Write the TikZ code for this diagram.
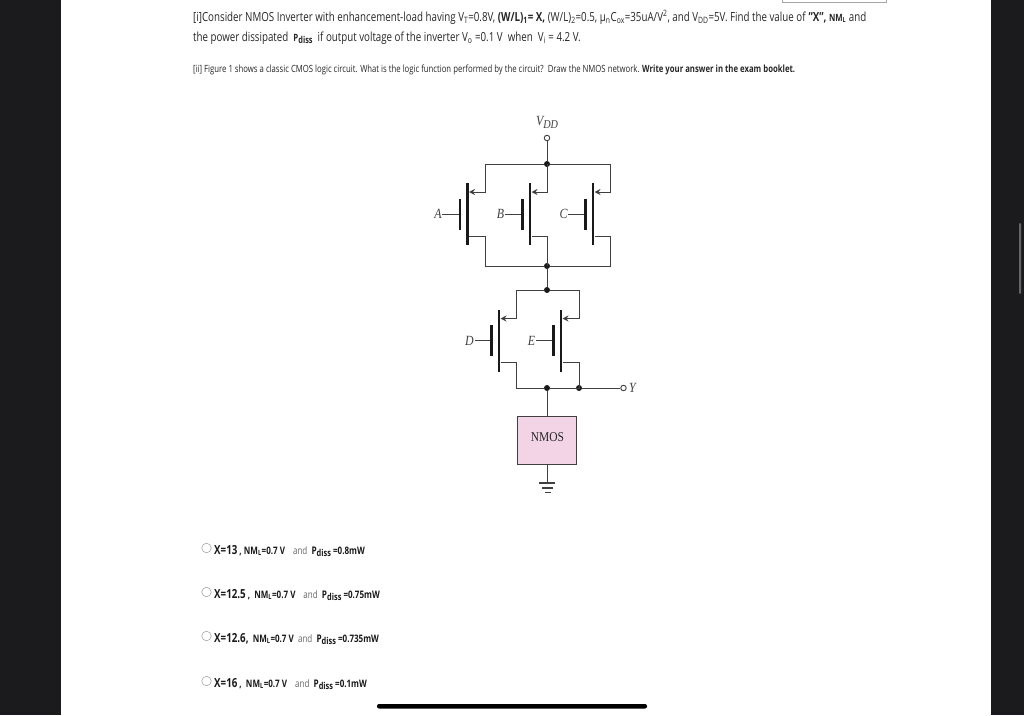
\documentclass[tikz,border=0pt]{standalone}
\usepackage{fontspec}
\setmainfont[FakeStretch=0.78]{Open Sans}
\newfontfamily\circfont[FakeStretch=0.85]{Liberation Serif}
\usetikzlibrary{arrows.meta}
\definecolor{frame}{HTML}{1B1B1D}
\definecolor{wirecol}{HTML}{404040}
\definecolor{boxfill}{HTML}{F3D4E6}
\newcommand{\lowtxt}[1]{\raisebox{-2.5pt}{\fontsize{9.5}{9.5}\selectfont #1}}
\begin{document}
\begin{tikzpicture}[
    x=1pt, y=-1pt,
    wire/.style={draw=wirecol, line width=1pt},
    srcarrow/.style={wire, -{Stealth[length=6pt,width=6pt]}},
    channel/.style={fill=black!90, inner sep=0pt, minimum width=2.6pt, minimum height=62pt},
    gateplate/.style={fill=black!90, inner sep=0pt, minimum width=2.2pt, minimum height=31pt},
    dot/.style={circle, fill=black!90, inner sep=0pt, minimum size=6pt},
    pin/.style={circle, draw=wirecol, fill=white, line width=0.9pt, inner sep=0pt, minimum size=5.5pt},
    lbl/.style={font=\circfont\itshape\fontsize{14}{14}\selectfont, text=black!75, inner sep=0.5pt},
    nmosbox/.style={draw=wirecol, fill=boxfill, line width=1pt, minimum width=59pt, minimum height=48pt, inner sep=0pt},
    boxlbl/.style={font=\circfont\fontsize{13.5}{13.5}\selectfont, text=black!85, inner sep=0pt},
    para/.style={anchor=west, inner sep=0pt, text=black!85, font=\fontsize{12.5}{14}\selectfont},
    parasmall/.style={anchor=west, inner sep=0pt, text=black!85, font=\fontsize{9.93}{12}\selectfont},
    opt/.style={anchor=west, inner sep=0pt, text=black!90, font=\bfseries\fontsize{10.3}{12}\selectfont},
    radio/.style={circle, draw=black!35, fill=white, line width=0.6pt, inner sep=0pt, minimum size=9.5pt},
    gnd/.style={draw=wirecol, line width=1.4pt}
]
    \useasboundingbox (0,0) rectangle (1024,715);
    % page frame
    \fill[frame] (0,0) rectangle (61,715);
    \fill[frame] (990.5,0) rectangle (1024,715);
    \fill[black!60, rounded corners=1pt] (1019,223) rectangle (1021,294);
    \draw[black!35, line width=0.8pt] (782.5,0) -- (782.5,2.5) -- (886.5,2.5) -- (886.5,0);
    \fill[black, rounded corners=2pt] (377,704) rectangle (647,708.5);

    % question text
    \node[para] (line1) at (193,17.5) {[i]Consider NMOS Inverter with enhancement-load having V\textsubscript{T}=0.8V, \textbf{(W/L)\textsubscript{1}= X,} (W/L)\textsubscript{2}=0.5, μ\textsubscript{n}C\textsubscript{ox}=35uA/V\textsuperscript{2}, and V\textsubscript{DD}=5V. Find the value of \textbf{"X", {\fontsize{10}{12}\selectfont NM\textsubscript{L}}} and};
    \node[para] (line2) at (193,38) {the power dissipated\ \ \textbf{\fontsize{10}{12}\selectfont P\lowtxt{diss}}\ \ if output voltage of the inverter V\textsubscript{o} =0.1 V\ \ when\ \ V\textsubscript{i} = 4.2 V.};
    \node[parasmall] (line3) at (193,69.5) {[ii] Figure 1 shows a classic CMOS logic circuit. What is the logic function performed by the circuit?\ \ Draw the NMOS network. \textbf{Write your answer in the exam booklet.}};

    % supply and rails
    \node[pin] (vdd) at (547,138) {};
    \node[lbl] (vddlbl) at (547,122.5) {V\raisebox{-3pt}{\fontsize{12}{12}\selectfont DD}};
    \node[dot] (topj) at (547,164) {};
    \node[dot] (midj) at (547,266) {};
    \node[dot] (upj) at (547,290) {};
    \node[dot] (lowj) at (547,388) {};
    \node[dot] (outj) at (579,388) {};
    \node[pin] (yout) at (623.5,388) {};
    \node[lbl] (ylbl) at (632.5,388) {Y};
    \node[nmosbox] (nmos) at (547,440) {};
    \node[boxlbl] (nmoslbl) at (547.5,437.5) {NMOS};
    \coordinate (gndtop) at (547,483);

    \draw[wire] (vdd) -- (topj);
    \draw[wire] (midj) -- (upj);
    \draw[wire] (upj) -- (lowj |- upj);
    \draw[wire] (lowj) -- (nmos);
    \draw[wire] (nmos) -- (gndtop);
    \draw[wire] (lowj) -- (outj) -- (yout);

    % transistors: name/channel x/centre y/rail x/rail start/rail end
    \foreach \nm/\cx/\cy/\rx/\ra/\rb in {A/467.5/214/485/topj/midj, B/530/214/547/topj/midj, C/593/214/610/topj/midj,
                                         D/499/340.5/516/upj/lowj, E/561/340.5/579/upj/lowj}{
        \node[channel] (ch\nm) at (\cx,\cy) {};
        \node[gateplate] (gt\nm) at (\cx-7.5,\cy) {};
        \node[lbl] (in\nm) at (\cx-29.5,\cy) {\nm};
        \coordinate (cs\nm) at (\rx,\cy-22);
        \coordinate (cd\nm) at (\rx,\cy+22);
        \draw[wire] (in\nm) -- (gt\nm);
        \draw[srcarrow] (\ra) -| (cs\nm) -- (ch\nm.east |- cs\nm);
        \draw[wire] (ch\nm.east |- cd\nm) -- (cd\nm) |- (\rb);
    }

    % ground
    \draw[gnd] (539,483) -- (555,483);
    \draw[gnd] (542,488) -- (553,488);
    \draw[gnd] (544.5,492.5) -- (550.5,492.5);

    % answers
    \node[radio] (rad1) at (206.5,548) {};
    \node[radio] (rad2) at (206.5,592) {};
    \node[radio] (rad3) at (206.5,636) {};
    \node[radio] (rad4) at (206.5,681) {};
    \node[opt] (opt1) at (214,551) {{\fontsize{12.5}{13}\selectfont X=13} , NM\textsubscript{L}=0.7 V\hspace{8pt}{\mdseries\color{black!60}and}\ \ {\fontsize{10.5}{12}\selectfont P\lowtxt{diss}} =0.8mW};
    \node[opt] (opt2) at (214,595) {{\fontsize{12.5}{13}\selectfont X=12.5} ,\ \ NM\textsubscript{L}=0.7 V\hspace{8pt}{\mdseries\color{black!60}and}\ \ {\fontsize{10.5}{12}\selectfont P\lowtxt{diss}} =0.75mW};
    \node[opt] (opt3) at (214,639) {{\fontsize{12.5}{13}\selectfont X=12.6,}\ \ NM\textsubscript{L}=0.7 V\ \ {\mdseries\color{black!60}and}\ \ {\fontsize{10.5}{12}\selectfont P\lowtxt{diss}} =0.735mW};
    \node[opt] (opt4) at (214,684) {{\fontsize{12.5}{13}\selectfont X=16} ,\ \ NM\textsubscript{L}=0.7 V\hspace{8pt}{\mdseries\color{black!60}and}\ \ {\fontsize{10.5}{12}\selectfont P\lowtxt{diss}} =0.1mW};
\end{tikzpicture}
\end{document}
